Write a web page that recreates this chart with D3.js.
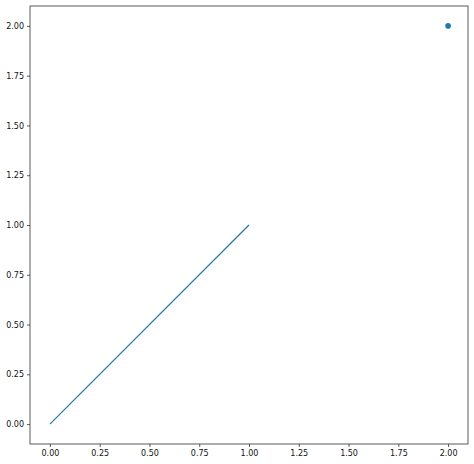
<!DOCTYPE html>
<html>
<head>
  <script src="https://d3js.org/d3.v7.min.js"></script>
  <style>
    body { margin: 0; background: #fff; }
    .tick text { font-family: "DejaVu Sans", sans-serif; font-size: 8px; fill: #111; }
  </style>
</head>
<body>
  <svg width="474" height="464"></svg>
  <script>
    // data
    var lineX = [0, 1];
    var lineY = [0, 1];
    var pointX = [2];
    var pointY = [2];
    var tickValues = [0, 0.25, 0.5, 0.75, 1, 1.25, 1.5, 1.75, 2];

    var svg = d3.select("svg");
    var m = { left: 30, right: 468, top: 6, bottom: 444 };

    var x = d3.scaleLinear().domain([-0.1, 2.1]).range([m.left, m.right]);
    var y = d3.scaleLinear().domain([-0.1, 2.1]).range([m.bottom, m.top]);

    // axes
    svg.append("g")
      .attr("transform", "translate(0," + m.bottom + ")")
      .call(d3.axisBottom(x).tickValues(tickValues).tickFormat(d3.format(".2f")).tickSize(3).tickPadding(3));
    svg.append("g")
      .attr("transform", "translate(" + m.left + ",0)")
      .call(d3.axisLeft(y).tickValues(tickValues).tickFormat(d3.format(".2f")).tickSize(3).tickPadding(3));
    svg.selectAll(".domain").remove();
    svg.selectAll(".tick line").attr("stroke", "#333").attr("stroke-width", 0.8);

    // frame
    svg.append("rect")
      .attr("x", m.left).attr("y", m.top)
      .attr("width", m.right - m.left).attr("height", m.bottom - m.top)
      .attr("fill", "none").attr("stroke", "#333").attr("stroke-width", 0.8);

    // line
    var pts = lineX.map(function (d, i) { return [d, lineY[i]]; });
    svg.append("path")
      .datum(pts)
      .attr("d", d3.line().x(function (d) { return x(d[0]); }).y(function (d) { return y(d[1]); }))
      .attr("fill", "none")
      .attr("stroke", "#1f77b4")
      .attr("stroke-width", 1.2);

    // scatter point
    svg.selectAll("circle.pt")
      .data(pointX)
      .enter()
      .append("circle")
      .attr("class", "pt")
      .attr("cx", function (d) { return x(d); })
      .attr("cy", function (d, i) { return y(pointY[i]); })
      .attr("r", 2.8)
      .attr("fill", "#1f77b4");
  </script>
</body>
</html>
